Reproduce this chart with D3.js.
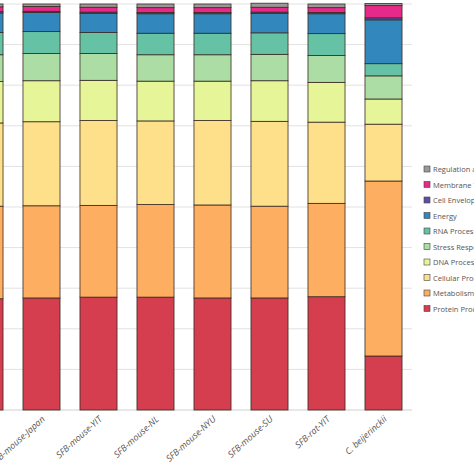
<!DOCTYPE html>
<html><head><meta charset="utf-8">
<script src="https://cdn.jsdelivr.net/npm/d3@7"></script>
<style>body{margin:0;background:#fff}</style>
</head><body>
<svg id="chart" width="474" height="474"></svg>
<script>
var strains = ["SFB-rat-Japan", "SFB-mouse-Japan", "SFB-mouse-YIT", "SFB-mouse-NL", "SFB-mouse-NYU", "SFB-mouse-SU", "SFB-rat-YIT", "C. beijerinckii"];
var categories = ["Protein Processing", "Metabolism", "Cellular Processes", "DNA Processing", "Stress Response", "RNA Processing", "Energy", "Cell Envelope", "Membrane Transport", "Regulation and Signaling"];
var colors = ["#d53e4f", "#fdae61", "#fee08b", "#e6f598", "#abdda4", "#66c2a5", "#3288bd", "#5e4fa2", "#e7298a", "#999999"];
// percent per category, one array per category (same order as strains)
var protein    = [27.4, 27.6, 27.8, 27.8, 27.6, 27.6, 27.9, 13.3];
var metabolism = [22.8, 22.7, 22.6, 22.8, 22.9, 22.6, 23.0, 43.1];
var cellular   = [20.5, 20.7, 20.9, 20.6, 20.8, 20.9, 20.0, 14.0];
var dna        = [10.2, 10.1, 9.9, 9.8, 9.7, 10.0, 9.8, 6.2];
var stress     = [6.6, 6.7, 6.6, 6.5, 6.5, 6.5, 6.6, 5.7];
var rna        = [5.5, 5.4, 5.2, 5.3, 5.3, 5.3, 5.4, 3.0];
var energy     = [4.8, 4.7, 4.7, 4.8, 4.8, 4.8, 4.9, 10.8];
var envelope   = [0.3, 0.3, 0.3, 0.3, 0.3, 0.3, 0.3, 0.5];
var membrane   = [1.2, 1.2, 1.2, 1.2, 1.2, 1.2, 1.2, 3.0];
var regulation = [0.7, 0.6, 0.8, 0.9, 0.9, 1.0, 0.9, 0.5];
var series = [protein, metabolism, cellular, dna, stress, rna, energy, envelope, membrane, regulation];

var svg = d3.select("#chart");
var x = d3.scaleBand().domain(strains).range([-44, 412]).paddingInner(0.35).paddingOuter(0.175);
var y = d3.scaleLinear().domain([0, 100]).range([410, 4]);

svg.selectAll(".grid").data(d3.range(10, 101, 10)).enter().append("line")
  .attr("x1", 0).attr("x2", 412)
  .attr("y1", function(d) { return y(d) }).attr("y2", function(d) { return y(d) })
  .attr("stroke", "#e2e2e2");
svg.append("line").attr("x1", 0).attr("x2", 412).attr("y1", y(0)).attr("y2", y(0)).attr("stroke", "#d0d0d0");

var rows = strains.map(function(s, i) {
  var r = { strain: s };
  categories.forEach(function(c, j) { r[c] = series[j][i] });
  return r;
});
var stacked = d3.stack().keys(categories)(rows);

svg.selectAll(".layer").data(stacked).enter().append("g")
  .attr("fill", function(d, i) { return colors[i] })
  .selectAll("rect").data(function(d) { return d }).enter().append("rect")
  .attr("x", function(d) { return x(d.data.strain) })
  .attr("width", x.bandwidth())
  .attr("y", function(d) { return y(d[1]) })
  .attr("height", function(d) { return y(d[0]) - y(d[1]) })
  .attr("stroke", "#3a2a22").attr("stroke-width", 0.8);

svg.selectAll(".lbl").data(strains).enter().append("text")
  .attr("transform", function(d) { return "translate(" + (x(d) + x.bandwidth() / 2 + 4) + ",420) rotate(-42)" })
  .attr("text-anchor", "end")
  .attr("font-family", "Open Sans, sans-serif").attr("font-size", 9).attr("font-style", "italic").attr("fill", "#555")
  .text(function(d) { return d });

var legend = svg.selectAll(".leg").data(categories.slice().reverse()).enter().append("g")
  .attr("transform", function(d, i) { return "translate(424," + (169 + i * 15.5) + ")" });
legend.append("rect").attr("x", 0).attr("y", -3).attr("width", 6).attr("height", 6)
  .attr("fill", function(d) { return colors[categories.indexOf(d)] })
  .attr("stroke", "#444").attr("stroke-width", 0.6);
legend.append("text").attr("x", 9).attr("y", 3)
  .attr("font-family", "Open Sans, sans-serif").attr("font-size", 7.5).attr("fill", "#555")
  .text(function(d) { return d });
</script>
</body></html>
